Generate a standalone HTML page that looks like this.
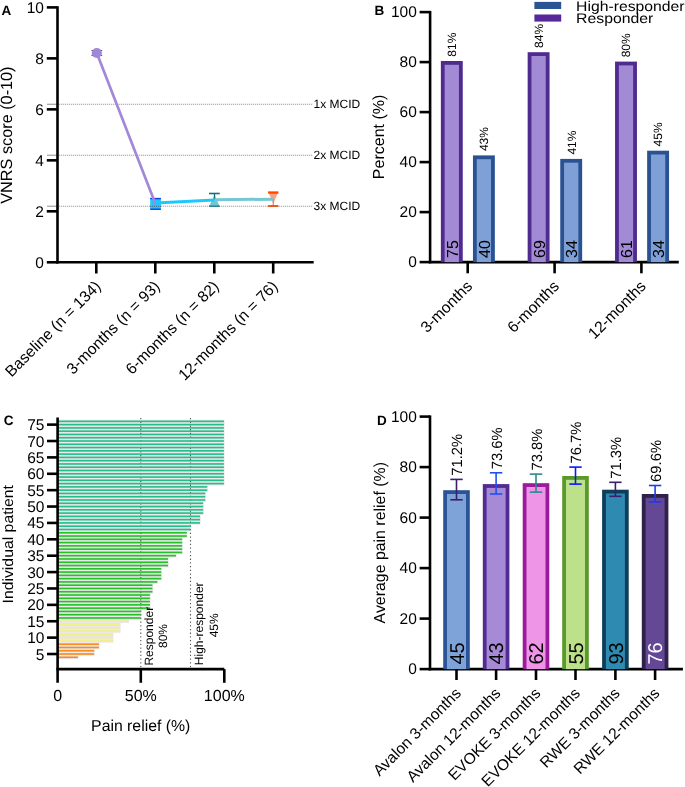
<!DOCTYPE html>
<html><head><meta charset="utf-8"><style>
html,body{margin:0;padding:0;background:#fff;}
body{width:685px;height:787px;overflow:hidden;}
svg{display:block;font-family:"Liberation Sans", sans-serif;}
text{-webkit-font-smoothing:antialiased;text-rendering:geometricPrecision;}
body{will-change:transform;}
</style></head><body>
<svg width="685" height="787" viewBox="0 0 685 787">
<rect width="685" height="787" fill="#fff"/>
<text x="1.50" y="14.60" font-size="13.5" text-anchor="start" font-weight="bold" fill="#000" >A</text>
<line x1="47.00" y1="104.26" x2="57.50" y2="104.26" stroke="#999" stroke-width="1.1" />
<line x1="58.80" y1="104.26" x2="313.00" y2="104.26" stroke="#888" stroke-width="1" stroke-dasharray="1 1"/>
<text x="313.60" y="108.46" font-size="12" text-anchor="start" font-weight="normal" fill="#000" >1x MCID</text>
<line x1="47.00" y1="155.24" x2="57.50" y2="155.24" stroke="#999" stroke-width="1.1" />
<line x1="58.80" y1="155.24" x2="313.00" y2="155.24" stroke="#888" stroke-width="1" stroke-dasharray="1 1"/>
<text x="313.60" y="159.44" font-size="12" text-anchor="start" font-weight="normal" fill="#000" >2x MCID</text>
<line x1="47.00" y1="206.22" x2="57.50" y2="206.22" stroke="#999" stroke-width="1.1" />
<line x1="58.80" y1="206.22" x2="313.00" y2="206.22" stroke="#888" stroke-width="1" stroke-dasharray="1 1"/>
<text x="313.60" y="210.42" font-size="12" text-anchor="start" font-weight="normal" fill="#000" >3x MCID</text>
<line x1="57.50" y1="6.20" x2="57.50" y2="263.50" stroke="#000" stroke-width="2.6" />
<line x1="56.30" y1="262.30" x2="313.70" y2="262.30" stroke="#000" stroke-width="2.6" />
<line x1="46.80" y1="262.30" x2="57.50" y2="262.30" stroke="#000" stroke-width="2.6" />
<text x="43.90" y="267.80" font-size="15.5" text-anchor="end" font-weight="normal" fill="#000" >0</text>
<line x1="46.80" y1="211.32" x2="57.50" y2="211.32" stroke="#000" stroke-width="2.6" />
<text x="43.90" y="216.82" font-size="15.5" text-anchor="end" font-weight="normal" fill="#000" >2</text>
<line x1="46.80" y1="160.34" x2="57.50" y2="160.34" stroke="#000" stroke-width="2.6" />
<text x="43.90" y="165.84" font-size="15.5" text-anchor="end" font-weight="normal" fill="#000" >4</text>
<line x1="46.80" y1="109.36" x2="57.50" y2="109.36" stroke="#000" stroke-width="2.6" />
<text x="43.90" y="114.86" font-size="15.5" text-anchor="end" font-weight="normal" fill="#000" >6</text>
<line x1="46.80" y1="58.38" x2="57.50" y2="58.38" stroke="#000" stroke-width="2.6" />
<text x="43.90" y="63.88" font-size="15.5" text-anchor="end" font-weight="normal" fill="#000" >8</text>
<line x1="46.80" y1="7.40" x2="57.50" y2="7.40" stroke="#000" stroke-width="2.6" />
<text x="43.90" y="12.90" font-size="15.5" text-anchor="end" font-weight="normal" fill="#000" >10</text>
<line x1="96.30" y1="262.30" x2="96.30" y2="273.50" stroke="#000" stroke-width="2.6" />
<line x1="155.30" y1="262.30" x2="155.30" y2="273.50" stroke="#000" stroke-width="2.6" />
<line x1="214.30" y1="262.30" x2="214.30" y2="273.50" stroke="#000" stroke-width="2.6" />
<line x1="273.20" y1="262.30" x2="273.20" y2="273.50" stroke="#000" stroke-width="2.6" />
<text x="12.30" y="135.10" font-size="16.25" text-anchor="middle" font-weight="normal" fill="#000" transform="rotate(-90 12.30 135.10)" >VNRS score (0-10)</text>
<text x="101.80" y="287.30" font-size="15.7" text-anchor="end" font-weight="normal" fill="#000" transform="rotate(-45 101.80 287.30)" >Baseline (n = 134)</text>
<text x="160.80" y="287.30" font-size="15.7" text-anchor="end" font-weight="normal" fill="#000" transform="rotate(-45 160.80 287.30)" >3-months (n = 93)</text>
<text x="219.80" y="287.30" font-size="15.7" text-anchor="end" font-weight="normal" fill="#000" transform="rotate(-45 219.80 287.30)" >6-months (n = 82)</text>
<text x="278.70" y="287.30" font-size="15.7" text-anchor="end" font-weight="normal" fill="#000" transform="rotate(-45 278.70 287.30)" >12-months (n = 76)</text>
<line x1="91.40" y1="50.60" x2="102.20" y2="50.60" stroke="#3c2a66" stroke-width="0.9" />
<line x1="91.40" y1="55.40" x2="102.20" y2="55.40" stroke="#3c2a66" stroke-width="0.9" />
<circle cx="96.8" cy="53.0" r="5.1" fill="#9f87d6"/>
<rect x="150.20" y="197.90" width="10.70" height="12.00" fill="#1ec8ff" />
<line x1="150.20" y1="198.60" x2="160.90" y2="198.60" stroke="#1040f0" stroke-width="1.4" />
<line x1="150.20" y1="209.20" x2="160.90" y2="209.20" stroke="#1040f0" stroke-width="1.4" />
<polygon points="209,206.5 219.8,206.5 214.5,195" fill="#72c8d2"/>
<line x1="214.50" y1="193.50" x2="214.50" y2="200.00" stroke="#176e7e" stroke-width="1.3" />
<line x1="209.00" y1="193.50" x2="219.80" y2="193.50" stroke="#176e7e" stroke-width="1.6" />
<line x1="209.00" y1="206.20" x2="219.80" y2="206.20" stroke="#176e7e" stroke-width="1.2" />
<polygon points="268.1,191.6 278.4,191.6 273.3,203.8" fill="#ffa080"/>
<line x1="268.10" y1="192.60" x2="278.40" y2="192.60" stroke="#ff4800" stroke-width="2.2" />
<line x1="273.30" y1="199.00" x2="273.30" y2="206.00" stroke="#ff8060" stroke-width="1.3" />
<line x1="268.10" y1="206.00" x2="278.40" y2="206.00" stroke="#e84a10" stroke-width="1.8" />
<line x1="96.80" y1="53.00" x2="155.30" y2="203.50" stroke="#a488d8" stroke-width="2.7" stroke-linecap="round"/>
<line x1="155.50" y1="202.90" x2="214.50" y2="200.10" stroke="#1ec8ff" stroke-width="3" />
<line x1="214.50" y1="199.80" x2="273.00" y2="199.20" stroke="#74c8d4" stroke-width="3" />
<line x1="150.00" y1="206.30" x2="161.00" y2="206.30" stroke="#556" stroke-width="0.9" stroke-dasharray="1 1"/>
<text x="374.40" y="14.60" font-size="13.5" text-anchor="start" font-weight="bold" fill="#000" >B</text>
<line x1="430.10" y1="10.90" x2="430.10" y2="263.30" stroke="#000" stroke-width="2.6" />
<line x1="428.90" y1="262.10" x2="678.80" y2="262.10" stroke="#000" stroke-width="2.6" />
<line x1="419.60" y1="262.10" x2="430.10" y2="262.10" stroke="#000" stroke-width="2.6" />
<text x="416.80" y="267.30" font-size="15.5" text-anchor="end" font-weight="normal" fill="#000" >0</text>
<line x1="419.60" y1="212.10" x2="430.10" y2="212.10" stroke="#000" stroke-width="2.6" />
<text x="416.80" y="217.30" font-size="15.5" text-anchor="end" font-weight="normal" fill="#000" >20</text>
<line x1="419.60" y1="162.10" x2="430.10" y2="162.10" stroke="#000" stroke-width="2.6" />
<text x="416.80" y="167.30" font-size="15.5" text-anchor="end" font-weight="normal" fill="#000" >40</text>
<line x1="419.60" y1="112.10" x2="430.10" y2="112.10" stroke="#000" stroke-width="2.6" />
<text x="416.80" y="117.30" font-size="15.5" text-anchor="end" font-weight="normal" fill="#000" >60</text>
<line x1="419.60" y1="62.10" x2="430.10" y2="62.10" stroke="#000" stroke-width="2.6" />
<text x="416.80" y="67.30" font-size="15.5" text-anchor="end" font-weight="normal" fill="#000" >80</text>
<line x1="419.60" y1="12.10" x2="430.10" y2="12.10" stroke="#000" stroke-width="2.6" />
<text x="416.80" y="17.30" font-size="15.5" text-anchor="end" font-weight="normal" fill="#000" >100</text>
<line x1="467.70" y1="262.10" x2="467.70" y2="273.30" stroke="#000" stroke-width="2.6" />
<line x1="554.60" y1="262.10" x2="554.60" y2="273.30" stroke="#000" stroke-width="2.6" />
<line x1="641.40" y1="262.10" x2="641.40" y2="273.30" stroke="#000" stroke-width="2.6" />
<text x="384.30" y="136.90" font-size="16" text-anchor="middle" font-weight="normal" fill="#000" transform="rotate(-90 384.30 136.90)" >Percent (%)</text>
<text x="473.20" y="287.30" font-size="15.7" text-anchor="end" font-weight="normal" fill="#000" transform="rotate(-45 473.20 287.30)" >3-months</text>
<text x="560.10" y="287.30" font-size="15.7" text-anchor="end" font-weight="normal" fill="#000" transform="rotate(-45 560.10 287.30)" >6-months</text>
<text x="646.90" y="287.30" font-size="15.7" text-anchor="end" font-weight="normal" fill="#000" transform="rotate(-45 646.90 287.30)" >12-months</text>
<rect x="440.85" y="61.00" width="21.90" height="201.10" fill="#4f2b90" />
<rect x="444.65" y="64.80" width="14.30" height="197.30" fill="#a38ad4" />
<text x="456.20" y="56.70" font-size="12" text-anchor="start" font-weight="normal" fill="#000" transform="rotate(-90 456.20 56.70)" >81%</text>
<text x="457.80" y="257.90" font-size="16" text-anchor="start" font-weight="normal" fill="#000" transform="rotate(-90 457.80 257.90)" >75</text>
<rect x="472.95" y="155.40" width="21.90" height="106.70" fill="#2a5292" />
<rect x="476.75" y="159.20" width="14.30" height="102.90" fill="#7ea0d6" />
<text x="488.30" y="151.10" font-size="12" text-anchor="start" font-weight="normal" fill="#000" transform="rotate(-90 488.30 151.10)" >43%</text>
<text x="489.90" y="257.90" font-size="16" text-anchor="start" font-weight="normal" fill="#000" transform="rotate(-90 489.90 257.90)" >40</text>
<rect x="527.65" y="52.20" width="21.90" height="209.90" fill="#4f2b90" />
<rect x="531.45" y="56.00" width="14.30" height="206.10" fill="#a38ad4" />
<text x="543.00" y="47.90" font-size="12" text-anchor="start" font-weight="normal" fill="#000" transform="rotate(-90 543.00 47.90)" >84%</text>
<text x="544.60" y="257.90" font-size="16" text-anchor="start" font-weight="normal" fill="#000" transform="rotate(-90 544.60 257.90)" >69</text>
<rect x="560.25" y="158.90" width="21.90" height="103.20" fill="#2a5292" />
<rect x="564.05" y="162.70" width="14.30" height="99.40" fill="#7ea0d6" />
<text x="575.60" y="154.60" font-size="12" text-anchor="start" font-weight="normal" fill="#000" transform="rotate(-90 575.60 154.60)" >41%</text>
<text x="577.20" y="257.90" font-size="16" text-anchor="start" font-weight="normal" fill="#000" transform="rotate(-90 577.20 257.90)" >34</text>
<rect x="615.05" y="61.60" width="21.90" height="200.50" fill="#4f2b90" />
<rect x="618.85" y="65.40" width="14.30" height="196.70" fill="#a38ad4" />
<text x="630.40" y="57.30" font-size="12" text-anchor="start" font-weight="normal" fill="#000" transform="rotate(-90 630.40 57.30)" >80%</text>
<text x="632.00" y="257.90" font-size="16" text-anchor="start" font-weight="normal" fill="#000" transform="rotate(-90 632.00 257.90)" >61</text>
<rect x="647.15" y="150.70" width="21.90" height="111.40" fill="#2a5292" />
<rect x="650.95" y="154.50" width="14.30" height="107.60" fill="#7ea0d6" />
<text x="662.50" y="146.40" font-size="12" text-anchor="start" font-weight="normal" fill="#000" transform="rotate(-90 662.50 146.40)" >45%</text>
<text x="664.10" y="257.90" font-size="16" text-anchor="start" font-weight="normal" fill="#000" transform="rotate(-90 664.10 257.90)" >34</text>
<rect x="534.40" y="1.90" width="26.80" height="7.10" fill="#2a5494" />
<rect x="534.40" y="14.50" width="26.80" height="7.10" fill="#56289a" />
<text x="576.00" y="11.00" font-size="14" text-anchor="start" font-weight="normal" fill="#000" textLength="108.6" lengthAdjust="spacingAndGlyphs">High-responder</text>
<text x="576.00" y="22.90" font-size="14" text-anchor="start" font-weight="normal" fill="#000" textLength="77.4" lengthAdjust="spacingAndGlyphs">Responder</text>
<text x="3.80" y="425.40" font-size="13.5" text-anchor="start" font-weight="bold" fill="#000" >C</text>
<rect x="57.60" y="481.96" width="166.90" height="3.30" fill="#e6e3e8" />
<rect x="57.60" y="478.68" width="166.90" height="3.30" fill="#e6e3e8" />
<rect x="57.60" y="475.41" width="166.90" height="3.30" fill="#e6e3e8" />
<rect x="57.60" y="472.13" width="166.90" height="3.30" fill="#e6e3e8" />
<rect x="57.60" y="468.85" width="166.90" height="3.30" fill="#e6e3e8" />
<rect x="57.60" y="465.58" width="166.90" height="3.30" fill="#e6e3e8" />
<rect x="57.60" y="462.30" width="166.90" height="3.30" fill="#e6e3e8" />
<rect x="57.60" y="459.02" width="166.90" height="3.30" fill="#e6e3e8" />
<rect x="57.60" y="455.75" width="166.90" height="3.30" fill="#e6e3e8" />
<rect x="57.60" y="452.47" width="166.90" height="3.30" fill="#e6e3e8" />
<rect x="57.60" y="449.19" width="166.90" height="3.30" fill="#e6e3e8" />
<rect x="57.60" y="445.91" width="166.90" height="3.30" fill="#e6e3e8" />
<rect x="57.60" y="442.64" width="166.90" height="3.30" fill="#e6e3e8" />
<rect x="57.60" y="439.36" width="166.90" height="3.30" fill="#e6e3e8" />
<rect x="57.60" y="436.08" width="166.90" height="3.30" fill="#e6e3e8" />
<rect x="57.60" y="432.81" width="166.90" height="3.30" fill="#e6e3e8" />
<rect x="57.60" y="429.53" width="166.90" height="3.30" fill="#e6e3e8" />
<rect x="57.60" y="426.25" width="166.90" height="3.30" fill="#e6e3e8" />
<rect x="57.60" y="422.98" width="166.90" height="3.30" fill="#e6e3e8" />
<rect x="57.60" y="419.70" width="166.90" height="3.30" fill="#e6e3e8" />
<rect x="57.60" y="485.24" width="150.20" height="3.30" fill="#e6e3e8" />
<rect x="57.60" y="488.51" width="150.20" height="3.30" fill="#e6e3e8" />
<rect x="57.60" y="491.79" width="148.20" height="3.30" fill="#e6e3e8" />
<rect x="57.60" y="495.07" width="148.20" height="3.30" fill="#e6e3e8" />
<rect x="57.60" y="498.35" width="148.20" height="3.30" fill="#e6e3e8" />
<rect x="57.60" y="501.62" width="146.10" height="3.30" fill="#e6e3e8" />
<rect x="57.60" y="504.90" width="146.10" height="3.30" fill="#e6e3e8" />
<rect x="57.60" y="508.18" width="146.10" height="3.30" fill="#e6e3e8" />
<rect x="57.60" y="511.45" width="146.10" height="3.30" fill="#e6e3e8" />
<rect x="57.60" y="514.73" width="143.00" height="3.30" fill="#e6e3e8" />
<rect x="57.60" y="518.01" width="143.00" height="3.30" fill="#e6e3e8" />
<rect x="57.60" y="521.28" width="143.00" height="3.30" fill="#e6e3e8" />
<rect x="57.60" y="524.56" width="133.50" height="3.30" fill="#e6e3e8" />
<rect x="57.60" y="527.84" width="133.50" height="3.30" fill="#e6e3e8" />
<rect x="57.60" y="531.12" width="129.80" height="3.30" fill="#e6e3e8" />
<rect x="57.60" y="534.39" width="129.80" height="3.30" fill="#e6e3e8" />
<rect x="57.60" y="537.67" width="125.10" height="3.30" fill="#e6e3e8" />
<rect x="57.60" y="540.95" width="125.10" height="3.30" fill="#e6e3e8" />
<rect x="57.60" y="544.22" width="125.10" height="3.30" fill="#e6e3e8" />
<rect x="57.60" y="547.50" width="125.10" height="3.30" fill="#e6e3e8" />
<rect x="57.60" y="550.78" width="125.10" height="3.30" fill="#e6e3e8" />
<rect x="57.60" y="554.05" width="119.00" height="3.30" fill="#e6e3e8" />
<rect x="57.60" y="557.33" width="111.00" height="3.30" fill="#e6e3e8" />
<rect x="57.60" y="560.61" width="111.00" height="3.30" fill="#e6e3e8" />
<rect x="57.60" y="563.89" width="111.00" height="3.30" fill="#e6e3e8" />
<rect x="57.60" y="567.16" width="104.20" height="3.30" fill="#e6e3e8" />
<rect x="57.60" y="570.44" width="104.20" height="3.30" fill="#e6e3e8" />
<rect x="57.60" y="573.72" width="104.20" height="3.30" fill="#e6e3e8" />
<rect x="57.60" y="576.99" width="104.20" height="3.30" fill="#e6e3e8" />
<rect x="57.60" y="580.27" width="100.30" height="3.30" fill="#e6e3e8" />
<rect x="57.60" y="583.55" width="95.40" height="3.30" fill="#e6e3e8" />
<rect x="57.60" y="586.83" width="95.40" height="3.30" fill="#e6e3e8" />
<rect x="57.60" y="590.10" width="95.40" height="3.30" fill="#e6e3e8" />
<rect x="57.60" y="593.38" width="92.90" height="3.30" fill="#e6e3e8" />
<rect x="57.60" y="596.66" width="92.90" height="3.30" fill="#e6e3e8" />
<rect x="57.60" y="599.93" width="92.90" height="3.30" fill="#e6e3e8" />
<rect x="57.60" y="603.21" width="92.90" height="3.30" fill="#e6e3e8" />
<rect x="57.60" y="606.49" width="92.90" height="3.30" fill="#e6e3e8" />
<rect x="57.60" y="609.76" width="83.50" height="3.30" fill="#e6e3e8" />
<rect x="57.60" y="613.04" width="83.50" height="3.30" fill="#e6e3e8" />
<rect x="57.60" y="616.32" width="83.50" height="3.30" fill="#e6e3e8" />
<rect x="57.60" y="619.60" width="71.40" height="3.30" fill="#e6e3e8" />
<rect x="57.60" y="622.87" width="63.00" height="3.30" fill="#e6e3e8" />
<rect x="57.60" y="626.15" width="63.00" height="3.30" fill="#e6e3e8" />
<rect x="57.60" y="629.43" width="63.00" height="3.30" fill="#e6e3e8" />
<rect x="57.60" y="632.70" width="55.80" height="3.30" fill="#e6e3e8" />
<rect x="57.60" y="635.98" width="55.80" height="3.30" fill="#e6e3e8" />
<rect x="57.60" y="639.26" width="55.80" height="3.30" fill="#e6e3e8" />
<rect x="57.60" y="642.53" width="41.90" height="3.30" fill="#e6e3e8" />
<rect x="57.60" y="645.81" width="41.90" height="3.30" fill="#e6e3e8" />
<rect x="57.60" y="649.09" width="37.10" height="3.30" fill="#e6e3e8" />
<rect x="57.60" y="652.37" width="37.10" height="3.30" fill="#e6e3e8" />
<rect x="57.60" y="655.64" width="20.90" height="3.30" fill="#e6e3e8" />
<line x1="140.80" y1="418.00" x2="140.80" y2="669.00" stroke="#555" stroke-width="1.1" stroke-dasharray="1.3 2.4"/>
<line x1="190.50" y1="418.00" x2="190.50" y2="669.00" stroke="#555" stroke-width="1.1" stroke-dasharray="1.3 2.4"/>
<rect x="57.60" y="482.81" width="166.30" height="1.60" fill="#22c088" />
<rect x="57.60" y="479.53" width="166.30" height="1.60" fill="#22c088" />
<rect x="57.60" y="476.26" width="166.30" height="1.60" fill="#22c088" />
<rect x="57.60" y="472.98" width="166.30" height="1.60" fill="#22c088" />
<rect x="57.60" y="469.70" width="166.30" height="1.60" fill="#22c088" />
<rect x="57.60" y="466.43" width="166.30" height="1.60" fill="#22c088" />
<rect x="57.60" y="463.15" width="166.30" height="1.60" fill="#22c088" />
<rect x="57.60" y="459.87" width="166.30" height="1.60" fill="#22c088" />
<rect x="57.60" y="456.59" width="166.30" height="1.60" fill="#22c088" />
<rect x="57.60" y="453.32" width="166.30" height="1.60" fill="#22c088" />
<rect x="57.60" y="450.04" width="166.30" height="1.60" fill="#22c088" />
<rect x="57.60" y="446.76" width="166.30" height="1.60" fill="#22c088" />
<rect x="57.60" y="443.49" width="166.30" height="1.60" fill="#22c088" />
<rect x="57.60" y="440.21" width="166.30" height="1.60" fill="#22c088" />
<rect x="57.60" y="436.93" width="166.30" height="1.60" fill="#22c088" />
<rect x="57.60" y="433.66" width="166.30" height="1.60" fill="#22c088" />
<rect x="57.60" y="430.38" width="166.30" height="1.60" fill="#22c088" />
<rect x="57.60" y="427.10" width="166.30" height="1.60" fill="#22c088" />
<rect x="57.60" y="423.82" width="166.30" height="1.60" fill="#22c088" />
<rect x="57.60" y="420.55" width="166.30" height="1.60" fill="#22c088" />
<rect x="57.60" y="486.09" width="149.60" height="1.60" fill="#22c088" />
<rect x="57.60" y="489.36" width="149.60" height="1.60" fill="#22c088" />
<rect x="57.60" y="492.64" width="147.60" height="1.60" fill="#22c088" />
<rect x="57.60" y="495.92" width="147.60" height="1.60" fill="#22c088" />
<rect x="57.60" y="499.20" width="147.60" height="1.60" fill="#22c088" />
<rect x="57.60" y="502.47" width="145.50" height="1.60" fill="#22c088" />
<rect x="57.60" y="505.75" width="145.50" height="1.60" fill="#22c088" />
<rect x="57.60" y="509.03" width="145.50" height="1.60" fill="#22c088" />
<rect x="57.60" y="512.30" width="145.50" height="1.60" fill="#22c088" />
<rect x="57.60" y="515.58" width="142.40" height="1.60" fill="#22c088" />
<rect x="57.60" y="518.86" width="142.40" height="1.60" fill="#22c088" />
<rect x="57.60" y="522.13" width="142.40" height="1.60" fill="#22c088" />
<rect x="57.60" y="525.41" width="132.90" height="1.60" fill="#22c088" />
<rect x="57.60" y="528.69" width="132.90" height="1.60" fill="#22c088" />
<rect x="57.60" y="531.97" width="129.20" height="1.60" fill="#24c224" />
<rect x="57.60" y="535.24" width="129.20" height="1.60" fill="#24c224" />
<rect x="57.60" y="538.52" width="124.50" height="1.60" fill="#24c224" />
<rect x="57.60" y="541.80" width="124.50" height="1.60" fill="#24c224" />
<rect x="57.60" y="545.07" width="124.50" height="1.60" fill="#24c224" />
<rect x="57.60" y="548.35" width="124.50" height="1.60" fill="#24c224" />
<rect x="57.60" y="551.63" width="124.50" height="1.60" fill="#24c224" />
<rect x="57.60" y="554.90" width="118.40" height="1.60" fill="#24c224" />
<rect x="57.60" y="558.18" width="110.40" height="1.60" fill="#24c224" />
<rect x="57.60" y="561.46" width="110.40" height="1.60" fill="#24c224" />
<rect x="57.60" y="564.74" width="110.40" height="1.60" fill="#24c224" />
<rect x="57.60" y="568.01" width="103.60" height="1.60" fill="#24c224" />
<rect x="57.60" y="571.29" width="103.60" height="1.60" fill="#24c224" />
<rect x="57.60" y="574.57" width="103.60" height="1.60" fill="#24c224" />
<rect x="57.60" y="577.84" width="103.60" height="1.60" fill="#24c224" />
<rect x="57.60" y="581.12" width="99.70" height="1.60" fill="#24c224" />
<rect x="57.60" y="584.40" width="94.80" height="1.60" fill="#24c224" />
<rect x="57.60" y="587.68" width="94.80" height="1.60" fill="#24c224" />
<rect x="57.60" y="590.95" width="94.80" height="1.60" fill="#24c224" />
<rect x="57.60" y="594.23" width="92.30" height="1.60" fill="#24c224" />
<rect x="57.60" y="597.51" width="92.30" height="1.60" fill="#24c224" />
<rect x="57.60" y="600.78" width="92.30" height="1.60" fill="#24c224" />
<rect x="57.60" y="604.06" width="92.30" height="1.60" fill="#24c224" />
<rect x="57.60" y="607.34" width="92.30" height="1.60" fill="#24c224" />
<rect x="57.60" y="610.61" width="82.90" height="1.60" fill="#24c224" />
<rect x="57.60" y="613.89" width="82.90" height="1.60" fill="#24c224" />
<rect x="57.60" y="617.17" width="82.90" height="1.60" fill="#24c224" />
<rect x="57.60" y="620.45" width="70.80" height="1.60" fill="#f4f08c" />
<rect x="57.60" y="623.72" width="62.40" height="1.60" fill="#f4f08c" />
<rect x="57.60" y="627.00" width="62.40" height="1.60" fill="#f4f08c" />
<rect x="57.60" y="630.28" width="62.40" height="1.60" fill="#f4f08c" />
<rect x="57.60" y="633.55" width="55.20" height="1.60" fill="#f4f08c" />
<rect x="57.60" y="636.83" width="55.20" height="1.60" fill="#f4f08c" />
<rect x="57.60" y="640.11" width="55.20" height="1.60" fill="#f4f08c" />
<rect x="57.60" y="643.38" width="41.30" height="1.60" fill="#f88c1e" />
<rect x="57.60" y="646.66" width="41.30" height="1.60" fill="#f88c1e" />
<rect x="57.60" y="649.94" width="36.50" height="1.60" fill="#f88c1e" />
<rect x="57.60" y="653.22" width="36.50" height="1.60" fill="#f88c1e" />
<rect x="57.60" y="656.49" width="20.30" height="1.60" fill="#f88c1e" />
<line x1="57.60" y1="417.60" x2="57.60" y2="682.80" stroke="#000" stroke-width="2.6" />
<line x1="56.40" y1="669.10" x2="224.30" y2="669.10" stroke="#000" stroke-width="2.6" />
<line x1="47.00" y1="654.01" x2="57.60" y2="654.01" stroke="#000" stroke-width="2.6" />
<text x="44.40" y="659.51" font-size="15.5" text-anchor="end" font-weight="normal" fill="#000" >5</text>
<line x1="47.00" y1="637.63" x2="57.60" y2="637.63" stroke="#000" stroke-width="2.6" />
<text x="44.40" y="643.13" font-size="15.5" text-anchor="end" font-weight="normal" fill="#000" >10</text>
<line x1="47.00" y1="621.25" x2="57.60" y2="621.25" stroke="#000" stroke-width="2.6" />
<text x="44.40" y="626.75" font-size="15.5" text-anchor="end" font-weight="normal" fill="#000" >15</text>
<line x1="47.00" y1="604.86" x2="57.60" y2="604.86" stroke="#000" stroke-width="2.6" />
<text x="44.40" y="610.36" font-size="15.5" text-anchor="end" font-weight="normal" fill="#000" >20</text>
<line x1="47.00" y1="588.48" x2="57.60" y2="588.48" stroke="#000" stroke-width="2.6" />
<text x="44.40" y="593.98" font-size="15.5" text-anchor="end" font-weight="normal" fill="#000" >25</text>
<line x1="47.00" y1="572.09" x2="57.60" y2="572.09" stroke="#000" stroke-width="2.6" />
<text x="44.40" y="577.59" font-size="15.5" text-anchor="end" font-weight="normal" fill="#000" >30</text>
<line x1="47.00" y1="555.70" x2="57.60" y2="555.70" stroke="#000" stroke-width="2.6" />
<text x="44.40" y="561.20" font-size="15.5" text-anchor="end" font-weight="normal" fill="#000" >35</text>
<line x1="47.00" y1="539.32" x2="57.60" y2="539.32" stroke="#000" stroke-width="2.6" />
<text x="44.40" y="544.82" font-size="15.5" text-anchor="end" font-weight="normal" fill="#000" >40</text>
<line x1="47.00" y1="522.93" x2="57.60" y2="522.93" stroke="#000" stroke-width="2.6" />
<text x="44.40" y="528.43" font-size="15.5" text-anchor="end" font-weight="normal" fill="#000" >45</text>
<line x1="47.00" y1="506.55" x2="57.60" y2="506.55" stroke="#000" stroke-width="2.6" />
<text x="44.40" y="512.05" font-size="15.5" text-anchor="end" font-weight="normal" fill="#000" >50</text>
<line x1="47.00" y1="490.16" x2="57.60" y2="490.16" stroke="#000" stroke-width="2.6" />
<text x="44.40" y="495.66" font-size="15.5" text-anchor="end" font-weight="normal" fill="#000" >55</text>
<line x1="47.00" y1="473.78" x2="57.60" y2="473.78" stroke="#000" stroke-width="2.6" />
<text x="44.40" y="479.28" font-size="15.5" text-anchor="end" font-weight="normal" fill="#000" >60</text>
<line x1="47.00" y1="457.39" x2="57.60" y2="457.39" stroke="#000" stroke-width="2.6" />
<text x="44.40" y="462.89" font-size="15.5" text-anchor="end" font-weight="normal" fill="#000" >65</text>
<line x1="47.00" y1="441.01" x2="57.60" y2="441.01" stroke="#000" stroke-width="2.6" />
<text x="44.40" y="446.51" font-size="15.5" text-anchor="end" font-weight="normal" fill="#000" >70</text>
<line x1="47.00" y1="424.62" x2="57.60" y2="424.62" stroke="#000" stroke-width="2.6" />
<text x="44.40" y="430.12" font-size="15.5" text-anchor="end" font-weight="normal" fill="#000" >75</text>
<line x1="140.80" y1="669.10" x2="140.80" y2="682.80" stroke="#000" stroke-width="2.6" />
<line x1="224.30" y1="669.10" x2="224.30" y2="682.80" stroke="#000" stroke-width="2.6" />
<text x="57.60" y="700.70" font-size="16" text-anchor="middle" font-weight="normal" fill="#000" >0</text>
<text x="140.80" y="700.70" font-size="16" text-anchor="middle" font-weight="normal" fill="#000" >50%</text>
<text x="224.30" y="700.70" font-size="16" text-anchor="middle" font-weight="normal" fill="#000" >100%</text>
<text x="140.70" y="731.00" font-size="15.8" text-anchor="middle" font-weight="normal" fill="#000" >Pain relief (%)</text>
<text x="12.60" y="544.25" font-size="14.8" text-anchor="middle" font-weight="normal" fill="#000" transform="rotate(-90 12.60 544.25)" textLength="118.5" lengthAdjust="spacingAndGlyphs">Individual patient</text>
<text x="152.60" y="636.20" font-size="12" text-anchor="middle" font-weight="normal" fill="#000" transform="rotate(-90 152.60 636.20)" >Responder</text>
<text x="167.20" y="636.00" font-size="12" text-anchor="middle" font-weight="normal" fill="#000" transform="rotate(-90 167.20 636.00)" >80%</text>
<text x="203.00" y="623.80" font-size="12" text-anchor="middle" font-weight="normal" fill="#000" transform="rotate(-90 203.00 623.80)" >High-responder</text>
<text x="217.60" y="625.30" font-size="12" text-anchor="middle" font-weight="normal" fill="#000" transform="rotate(-90 217.60 625.30)" >45%</text>
<text x="376.90" y="425.40" font-size="13.5" text-anchor="start" font-weight="bold" fill="#000" >D</text>
<line x1="430.00" y1="415.40" x2="430.00" y2="670.30" stroke="#000" stroke-width="2.6" />
<line x1="428.80" y1="669.10" x2="682.90" y2="669.10" stroke="#000" stroke-width="2.6" />
<line x1="419.60" y1="669.10" x2="430.00" y2="669.10" stroke="#000" stroke-width="2.6" />
<text x="416.80" y="674.30" font-size="15.5" text-anchor="end" font-weight="normal" fill="#000" >0</text>
<line x1="419.60" y1="618.60" x2="430.00" y2="618.60" stroke="#000" stroke-width="2.6" />
<text x="416.80" y="623.80" font-size="15.5" text-anchor="end" font-weight="normal" fill="#000" >20</text>
<line x1="419.60" y1="568.10" x2="430.00" y2="568.10" stroke="#000" stroke-width="2.6" />
<text x="416.80" y="573.30" font-size="15.5" text-anchor="end" font-weight="normal" fill="#000" >40</text>
<line x1="419.60" y1="517.60" x2="430.00" y2="517.60" stroke="#000" stroke-width="2.6" />
<text x="416.80" y="522.80" font-size="15.5" text-anchor="end" font-weight="normal" fill="#000" >60</text>
<line x1="419.60" y1="467.10" x2="430.00" y2="467.10" stroke="#000" stroke-width="2.6" />
<text x="416.80" y="472.30" font-size="15.5" text-anchor="end" font-weight="normal" fill="#000" >80</text>
<line x1="419.60" y1="416.60" x2="430.00" y2="416.60" stroke="#000" stroke-width="2.6" />
<text x="416.80" y="421.80" font-size="15.5" text-anchor="end" font-weight="normal" fill="#000" >100</text>
<text x="384.50" y="542.75" font-size="15.9" text-anchor="middle" font-weight="normal" fill="#000" transform="rotate(-90 384.50 542.75)" >Average pain relief (%)</text>
<rect x="443.20" y="490.20" width="26.60" height="178.90" fill="#2a5496" />
<rect x="447.00" y="494.00" width="19.00" height="175.10" fill="#7ea3d8" />
<line x1="456.50" y1="479.40" x2="456.50" y2="499.80" stroke="#3b1f6b" stroke-width="1.6" />
<line x1="450.30" y1="479.40" x2="462.70" y2="479.40" stroke="#3b1f6b" stroke-width="1.6" />
<line x1="450.30" y1="499.80" x2="462.70" y2="499.80" stroke="#3b1f6b" stroke-width="1.6" />
<text x="462.10" y="475.80" font-size="14.8" text-anchor="start" font-weight="normal" fill="#000" transform="rotate(-90 462.10 475.80)" >71.2%</text>
<text x="463.80" y="664.50" font-size="20" text-anchor="start" font-weight="normal" fill="#000" transform="rotate(-90 463.80 664.50)" >45</text>
<line x1="456.50" y1="669.10" x2="456.50" y2="680.00" stroke="#000" stroke-width="2.6" />
<text x="462.00" y="694.30" font-size="15.6" text-anchor="end" font-weight="normal" fill="#000" transform="rotate(-45 462.00 694.30)" >Avalon 3-months</text>
<rect x="482.80" y="484.10" width="26.60" height="185.00" fill="#522c92" />
<rect x="486.60" y="487.90" width="19.00" height="181.20" fill="#a78ad6" />
<line x1="496.10" y1="472.80" x2="496.10" y2="494.00" stroke="#2050f0" stroke-width="1.6" />
<line x1="489.90" y1="472.80" x2="502.30" y2="472.80" stroke="#2050f0" stroke-width="1.6" />
<line x1="489.90" y1="494.00" x2="502.30" y2="494.00" stroke="#2050f0" stroke-width="1.6" />
<text x="501.70" y="469.20" font-size="14.8" text-anchor="start" font-weight="normal" fill="#000" transform="rotate(-90 501.70 469.20)" >73.6%</text>
<text x="503.40" y="664.50" font-size="20" text-anchor="start" font-weight="normal" fill="#000" transform="rotate(-90 503.40 664.50)" >43</text>
<line x1="496.10" y1="669.10" x2="496.10" y2="680.00" stroke="#000" stroke-width="2.6" />
<text x="501.60" y="694.30" font-size="15.6" text-anchor="end" font-weight="normal" fill="#000" transform="rotate(-45 501.60 694.30)" >Avalon 12-months</text>
<rect x="522.70" y="483.20" width="26.60" height="185.90" fill="#9a1c9a" />
<rect x="526.50" y="487.00" width="19.00" height="182.10" fill="#ee95e8" />
<line x1="536.00" y1="474.10" x2="536.00" y2="492.10" stroke="#2a8a8a" stroke-width="1.6" />
<line x1="529.80" y1="474.10" x2="542.20" y2="474.10" stroke="#2a8a8a" stroke-width="1.6" />
<line x1="529.80" y1="492.10" x2="542.20" y2="492.10" stroke="#2a8a8a" stroke-width="1.6" />
<text x="541.60" y="470.50" font-size="14.8" text-anchor="start" font-weight="normal" fill="#000" transform="rotate(-90 541.60 470.50)" >73.8%</text>
<text x="543.30" y="664.50" font-size="20" text-anchor="start" font-weight="normal" fill="#000" transform="rotate(-90 543.30 664.50)" >62</text>
<line x1="536.00" y1="669.10" x2="536.00" y2="680.00" stroke="#000" stroke-width="2.6" />
<text x="541.50" y="694.30" font-size="15.6" text-anchor="end" font-weight="normal" fill="#000" transform="rotate(-45 541.50 694.30)" >EVOKE 3-months</text>
<rect x="562.20" y="476.00" width="26.60" height="193.10" fill="#5a9a2a" />
<rect x="566.00" y="479.80" width="19.00" height="189.30" fill="#bde08a" />
<line x1="575.50" y1="467.10" x2="575.50" y2="484.10" stroke="#0a18f5" stroke-width="1.6" />
<line x1="569.30" y1="467.10" x2="581.70" y2="467.10" stroke="#0a18f5" stroke-width="1.6" />
<line x1="569.30" y1="484.10" x2="581.70" y2="484.10" stroke="#0a18f5" stroke-width="1.6" />
<text x="581.10" y="463.50" font-size="14.8" text-anchor="start" font-weight="normal" fill="#000" transform="rotate(-90 581.10 463.50)" >76.7%</text>
<text x="582.80" y="664.50" font-size="20" text-anchor="start" font-weight="normal" fill="#000" transform="rotate(-90 582.80 664.50)" >55</text>
<line x1="575.50" y1="669.10" x2="575.50" y2="680.00" stroke="#000" stroke-width="2.6" />
<text x="581.00" y="694.30" font-size="15.6" text-anchor="end" font-weight="normal" fill="#000" transform="rotate(-45 581.00 694.30)" >EVOKE 12-months</text>
<rect x="602.10" y="489.70" width="26.60" height="179.40" fill="#0f3d5a" />
<rect x="605.90" y="493.50" width="19.00" height="175.60" fill="#2e8ab0" />
<line x1="615.40" y1="482.30" x2="615.40" y2="496.30" stroke="#3b1f6b" stroke-width="1.6" />
<line x1="609.20" y1="482.30" x2="621.60" y2="482.30" stroke="#3b1f6b" stroke-width="1.6" />
<line x1="609.20" y1="496.30" x2="621.60" y2="496.30" stroke="#3b1f6b" stroke-width="1.6" />
<text x="621.00" y="478.70" font-size="14.8" text-anchor="start" font-weight="normal" fill="#000" transform="rotate(-90 621.00 478.70)" >71.3%</text>
<text x="622.70" y="664.50" font-size="20" text-anchor="start" font-weight="normal" fill="#000" transform="rotate(-90 622.70 664.50)" >93</text>
<line x1="615.40" y1="669.10" x2="615.40" y2="680.00" stroke="#000" stroke-width="2.6" />
<text x="620.90" y="694.30" font-size="15.6" text-anchor="end" font-weight="normal" fill="#000" transform="rotate(-45 620.90 694.30)" >RWE 3-months</text>
<rect x="641.80" y="494.00" width="26.60" height="175.10" fill="#2e2248" />
<rect x="645.60" y="497.80" width="19.00" height="171.30" fill="#644895" />
<line x1="655.10" y1="485.50" x2="655.10" y2="502.00" stroke="#1a3cf0" stroke-width="1.6" />
<line x1="648.90" y1="485.50" x2="661.30" y2="485.50" stroke="#1a3cf0" stroke-width="1.6" />
<line x1="648.90" y1="502.00" x2="661.30" y2="502.00" stroke="#1a3cf0" stroke-width="1.6" />
<text x="660.70" y="481.90" font-size="14.8" text-anchor="start" font-weight="normal" fill="#000" transform="rotate(-90 660.70 481.90)" >69.6%</text>
<text x="662.40" y="664.50" font-size="20" text-anchor="start" font-weight="normal" fill="#fff" transform="rotate(-90 662.40 664.50)" >76</text>
<line x1="655.10" y1="669.10" x2="655.10" y2="680.00" stroke="#000" stroke-width="2.6" />
<text x="660.60" y="694.30" font-size="15.6" text-anchor="end" font-weight="normal" fill="#000" transform="rotate(-45 660.60 694.30)" >RWE 12-months</text>
</svg>
</body></html>
